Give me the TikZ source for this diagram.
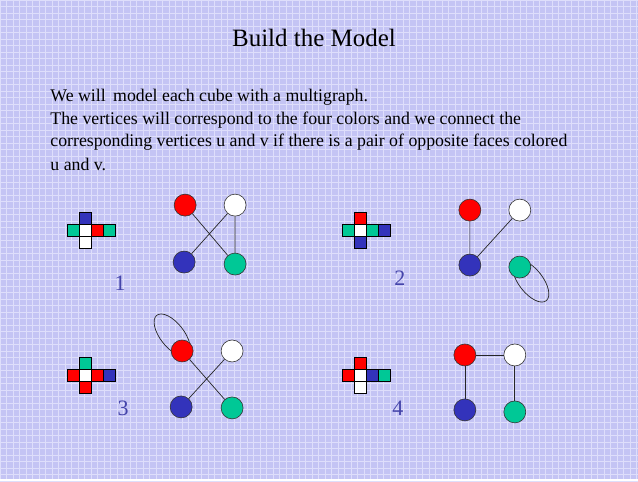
\documentclass[tikz,border=0pt]{standalone}
\usepackage{fontspec}
\setmainfont{Liberation Serif}
\definecolor{bg}{HTML}{C4C4F4}
\definecolor{gridc}{HTML}{DEDEFB}
\definecolor{vred}{HTML}{FF0000}
\definecolor{vblue}{HTML}{3333BB}
\definecolor{vteal}{HTML}{00C896}
\definecolor{numc}{HTML}{4444AA}
\tikzset{
 v/.style={circle,draw=black!80,line width=0.6pt,minimum size=22pt,inner sep=0pt},
 cell/.style={draw=black,line width=0.6pt},
 num/.style={font=\fontsize{22}{22}\selectfont,text=numc},
 body/.style={anchor=west,font=\fontsize{17.8}{17.8}\selectfont,inner sep=0pt},
 ed/.style={line width=0.7pt,black!85}
}
\newcommand{\cellsq}[3]{\fill[#3] (#1,#2) rectangle ++(12,12); \draw[cell] (#1,#2) rectangle ++(12,12);}
\newcommand{\cubenet}[8]{% x y top c1 c2 c3 c4 bottom
 \cellsq{#1+12}{#2}{#3}
 \cellsq{#1}{#2+12}{#4}\cellsq{#1+12}{#2+12}{#5}\cellsq{#1+24}{#2+12}{#6}\cellsq{#1+36}{#2+12}{#7}
 \cellsq{#1+12}{#2+24}{#8}}
\begin{document}
\begin{tikzpicture}[x=1pt,y=-1pt]
\fill[bg] (0,0) rectangle (638,479);
\foreach \i in {0,...,98} {
  \draw[gridc,line width=0.6pt] (\i*6.5,0) -- (\i*6.5,479);
}
\foreach \i in {0,...,74} {
  \draw[gridc,line width=0.6pt] (0,\i*6.5) -- (638,\i*6.5);
}
\useasboundingbox (0,0) rectangle (638,479);
\node[font=\fontsize{25}{25}\selectfont] (title) at (314,38) {Build the Model};
\node[body] (t1) at (50,97) {We will\, model each cube with a multigraph.};
\node[body] (t2) at (50,120) {The vertices will correspond to the four colors and we connect the};
\node[body] (t3) at (50,142) {corresponding vertices u and v if there is a pair of opposite faces colored};
\node[body] (t4) at (50,164) {u and v.};
% nets
\cubenet{67}{212}{vblue}{vteal}{white}{vred}{vteal}{white}
\cubenet{342}{212}{vred}{vteal}{white}{vteal}{vblue}{vblue}
\cubenet{67}{357}{vteal}{vred}{white}{vred}{vblue}{vred}
\cubenet{342}{357}{vred}{vred}{white}{vblue}{vteal}{white}
% numbers
\node[num] (n1) at (120,283) {1};
\node[num] (n2) at (400,278) {2};
\node[num] (n3) at (123,408) {3};
\node[num] (n4) at (398,408) {4};
% graph 1
\node[v,fill=vred] (r1) at (185,205) {};
\node[v,fill=white] (w1) at (235,205) {};
\node[v,fill=vblue] (b1) at (184,262) {};
\node[v,fill=vteal] (g1) at (235,264) {};
\draw[ed] (r1)--(g1) (w1)--(b1) (w1)--(g1);
% graph 2
\node[v,fill=vred] (r2) at (470,210) {};
\node[v,fill=white] (w2) at (520,210) {};
\node[v,fill=vblue] (b2) at (470,265) {};
\draw[ed] (531,281) ellipse[x radius=12,y radius=25,rotate=38];
\node[v,fill=vteal] (g2) at (520,267) {};
\draw[ed] (r2)--(b2) (w2)--(b2);
% graph 3
\draw[ed] (172,335) ellipse[x radius=12,y radius=25,rotate=38];
\node[v,fill=vred] (r3) at (182,351) {};
\node[v,fill=white] (w3) at (232,351) {};
\node[v,fill=vblue] (b3) at (181,407) {};
\node[v,fill=vteal] (g3) at (232,408) {};
\draw[ed] (r3)--(g3) (w3)--(b3);
% graph 4
\node[v,fill=vred] (r4) at (465,355) {};
\node[v,fill=white] (w4) at (515,355) {};
\node[v,fill=vblue] (b4) at (465,410) {};
\node[v,fill=vteal] (g4) at (515,412) {};
\draw[ed] (r4)--(w4) (r4)--(b4) (w4)--(g4);
\end{tikzpicture}
\end{document}
